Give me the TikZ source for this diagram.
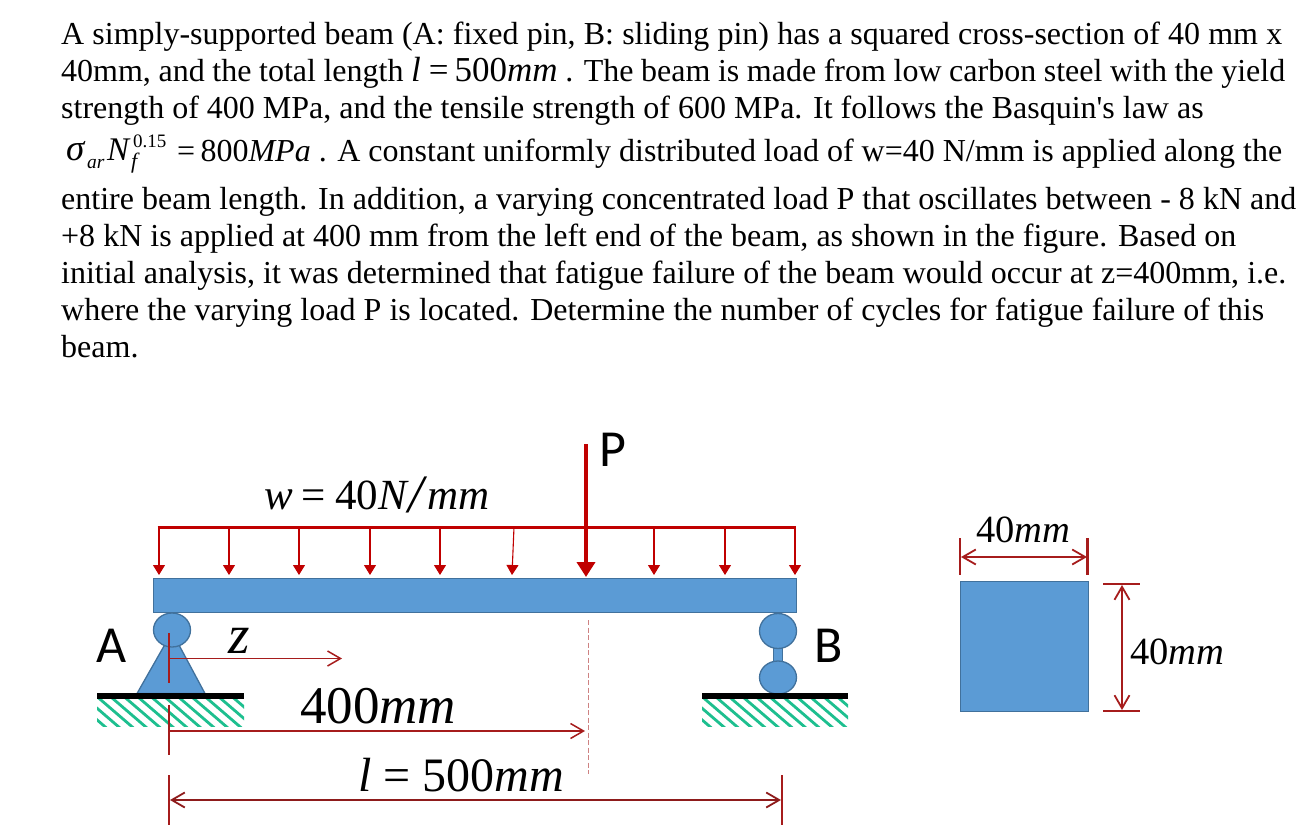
\documentclass[tikz,border=0pt]{standalone}
\usepackage{fontspec}
\setmainfont{Liberation Serif}
\newfontfamily\calib{Carlito}
\newfontfamily\plainrm{Liberation Serif}
\usetikzlibrary{arrows.meta}
\definecolor{beamfill}{HTML}{5B9BD5}
\definecolor{beamedge}{HTML}{41719C}
\definecolor{loadred}{HTML}{C00000}
\definecolor{dimred}{HTML}{A61C1C}
\definecolor{dimdark}{HTML}{8E1B1B}
\definecolor{hatchgreen}{HTML}{1DBF8F}
\newcommand{\bodyfont}{\fontsize{32}{37}\selectfont}
\newcommand{\hatchstrip}[4]{%
  \begin{scope}
    \clip (#1,#2) rectangle (#3,#4);
    \foreach \k in {-40,-26.5,...,200} {
      \draw[hatchgreen,line width=2.8pt] (#1+\k,#2-2) -- ++(36,31);
    }
  \end{scope}}
\tikzset{
  para/.style={anchor=base west,inner sep=0pt,font=\bodyfont,text=black},
  lab/.style={anchor=base west,inner sep=0pt,text=black},
  member/.style={fill=beamfill,draw=beamedge,line width=1.3pt},
  udl/.style={draw=loadred,line width=1.1pt,-{Triangle[length=10pt,width=12pt,fill=loadred]}},
  tick/.style={draw=dimred,line width=2.2pt},
  dimline/.style={draw=dimred,line width=2pt,{Straight Barb[length=13pt,width=15pt,line width=1.8pt]}-{Straight Barb[length=13pt,width=15pt,line width=1.8pt]}},
  dimlong/.style={draw=dimdark,line width=2pt,{Straight Barb[length=13pt,width=15pt,line width=1.8pt]}-{Straight Barb[length=13pt,width=15pt,line width=1.8pt]}},
  dimone/.style={draw=dimred,line width=1.5pt,-{Straight Barb[length=13pt,width=15pt,line width=1.5pt]}},
  ground/.style={fill=black,draw=none},
}
\begin{document}
\begin{tikzpicture}[x=1pt,y=-1pt]
\useasboundingbox (0,0) rectangle (1301,838);
\fill[white] (0,0) rectangle (1301,838);

% paragraph
\node[para] (t1) at (61,44) {\makebox[1221pt][s]{A simply-supported beam (A: fixed pin, B: sliding pin) has a squared cross-section of 40 mm x}};
\node[para] (t2) at (61,81) {\makebox[1224pt][s]{40mm, and the total length {\fontsize{35}{37}\selectfont\textit{l}\hspace{8pt}=\hspace{6pt}500\textit{mm}} . The beam is made from low carbon steel with the yield}};
\node[para] (t3) at (61,118) {strength of 400 MPa, and the tensile strength of 600 MPa. It follows the Basquin{\plainrm '}s law as};
\node[para,font=\fontsize{37}{37}\selectfont\itshape] (t4a) at (66,160) {σ};
\node[para,font=\fontsize{19.5}{19}\selectfont\itshape] (t4b) at (87,168) {ar};
\node[para,font=\fontsize{33}{37}\selectfont\itshape] (t4c) at (107,160) {N};
\node[para,font=\fontsize{19}{19}\selectfont] (t4d) at (133,147) {0.15};
\node[para,font=\fontsize{22}{22}\selectfont\itshape] (t4e) at (131,168) {f};
\node[para] (t4f) at (177,161) {\makebox[1105pt][s]{=\,800\textit{MPa} . A constant uniformly distributed load of w=40 N/mm is applied along the}};
\node[para] (t5) at (61,209) {\makebox[1235pt][s]{entire beam length. In addition, a varying concentrated load P that oscillates between - 8 kN and}};
\node[para] (t6) at (61,246) {\makebox[1175pt][s]{+8 kN is applied at 400 mm from the left end of the beam, as shown in the figure. Based on}};
\node[para] (t7) at (61,283) {\makebox[1225pt][s]{initial analysis, it was determined that fatigue failure of the beam would occur at z=400mm, i.e.}};
\node[para] (t8) at (61,320) {\makebox[1203pt][s]{where the varying load P is located. Determine the number of cycles for fatigue failure of this}};
\node[para] (t9) at (61,357) {beam.};

% grounds
\hatchstrip{97}{699}{244}{726}
\hatchstrip{702}{699}{848}{726}

% supports
\draw[member] (172,632) -- (205,693.5) -- (137,693.5) -- cycle;
\draw[member] (172,630) ellipse[x radius=18.5,y radius=17];
\draw[member] (773.5,645) rectangle (782.5,666);
\draw[member] (778,631) ellipse[x radius=18.5,y radius=17.5];
\draw[member] (778,677.5) ellipse[x radius=18.5,y radius=16.5];
\fill[ground] (97,693) rectangle (244,699);
\fill[ground] (702,693) rectangle (848,699);

% beam
\node[member,minimum width=643pt,minimum height=34pt,inner sep=0pt,anchor=north west] (beam) at (153,578) {};

% loads
\coordinate (ul) at (159,527); \coordinate (ur) at (795,527);
\draw[loadred,line width=3pt] (157.5,527) -- (796,527);
\foreach \xx in {159,229,299,370,440,654,725,795} \draw[udl] (\xx,527) -- (\xx,575);
\draw[udl] (514,527) -- (512,575);
\draw[loadred,line width=4pt,-{Triangle[length=15pt,width=18pt,fill=loadred]}] (586,444) -- (586,577);

% dimension lines
\coordinate (a1) at (169,633); \coordinate (a2) at (169,683);
\draw[tick] (a1) -- (a2);
\coordinate (a3) at (169,705); \coordinate (a4) at (169,755);
\draw[tick] (a3) -- (a4);
\coordinate (a5) at (169,775); \coordinate (a6) at (169,825);
\draw[tick] (a5) -- (a6);
\coordinate (b5) at (782,775); \coordinate (b6) at (782,825);
\draw[tick] (b5) -- (b6);
\coordinate (zs) at (169,658.5); \coordinate (ze) at (342,658.5);
\draw[dimone] (zs) -- (ze);
\coordinate (fs) at (169,731); \coordinate (fe) at (585,731);
\draw[dimone] (fs) -- (fe);
\coordinate (ds) at (588.5,620); \coordinate (de) at (588.5,774);
\draw[dimred!55,line width=0.7pt,dash pattern=on 5pt off 2.5pt] (ds) -- (de);
\coordinate (ls) at (170,800); \coordinate (le) at (781,800);
\draw[dimlong] (ls) -- (le);

% cross-section
\node[member,minimum width=128pt,minimum height=130pt,inner sep=0pt,anchor=north west] (sect) at (960,581) {};
\coordinate (s1) at (960,538); \coordinate (s2) at (960,575);
\coordinate (s3) at (1087.5,538); \coordinate (s4) at (1087.5,575);
\draw[tick] (s1) -- (s2);
\draw[tick] (s3) -- (s4);
\coordinate (sa) at (961,557); \coordinate (sb) at (1087,557);
\draw[dimline] (sa) -- (sb);
\coordinate (r1) at (1103,584); \coordinate (r2) at (1140,584);
\coordinate (r3) at (1103,711); \coordinate (r4) at (1140,711);
\draw[tick] (r1) -- (r2);
\draw[tick] (r3) -- (r4);
\coordinate (ra) at (1122,585); \coordinate (rb) at (1122,710);
\draw[dimline] (ra) -- (rb);

% labels
\node[lab,font=\calib\fontsize{52}{52}\selectfont] (lp) at (599,466) {P};
\node[lab,font=\calib\fontsize{52}{52}\selectfont] (la) at (96,662) {A};
\node[lab,font=\calib\fontsize{52}{52}\selectfont] (lb) at (814,662) {B};
\node[lab,font=\fontsize{43}{43}\selectfont] (lw) at (264,509) {\textit{w}\hspace{9pt}=\hspace{9pt}40\textit{N}\raisebox{-3pt}{\fontsize{54}{54}\selectfont\textit{/}}\textit{mm}};
\node[lab,font=\fontsize{55}{55}\selectfont\itshape] (lz) at (228,653) {z};
\node[lab,font=\fontsize{53}{53}\selectfont] (l400) at (300,723) {400\textit{mm}};
\node[lab,font=\fontsize{48}{48}\selectfont] (l500) at (358,791) {\textit{l} = 500\textit{mm}};
\node[lab,font=\fontsize{38.5}{38}\selectfont] (lt) at (976,542) {40\textit{mm}};
\node[lab,font=\fontsize{38.5}{38}\selectfont] (lr) at (1130,664) {40\textit{mm}};
\end{tikzpicture}
\end{document}
